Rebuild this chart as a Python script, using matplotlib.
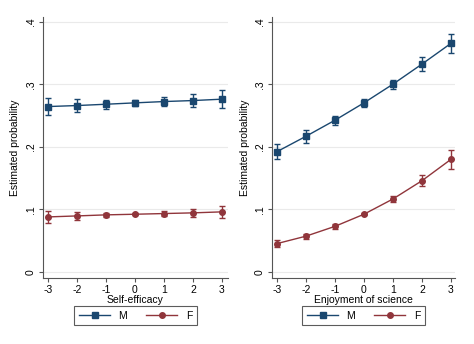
import matplotlib.pyplot as plt
from matplotlib.lines import Line2D

plt.rcParams['font.family'] = ['Liberation Sans', 'DejaVu Sans']

x = [-3, -2, -1, 0, 1, 2, 3]

# Self-efficacy panel
se_m = [0.2647, 0.2663, 0.2684, 0.2706, 0.2727, 0.2743, 0.2765]
se_m_err = [0.0136, 0.0104, 0.0075, 0.005, 0.0078, 0.0107, 0.014]
se_f = [0.0881, 0.0897, 0.0914, 0.0924, 0.0935, 0.0946, 0.0962]
se_f_err = [0.009, 0.0062, 0.0035, 0.002, 0.0035, 0.0065, 0.01]

# Enjoyment of science panel
en_m = [0.1925, 0.2171, 0.2428, 0.2706, 0.3005, 0.3326, 0.3658]
en_m_err = [0.012, 0.01, 0.0075, 0.0067, 0.0072, 0.011, 0.0155]
en_f = [0.0454, 0.0573, 0.073, 0.0924, 0.1168, 0.146, 0.1802]
en_f_err = [0.005, 0.004, 0.004, 0.002, 0.0043, 0.0086, 0.015]

yticks = [0, 0.1, 0.2, 0.3, 0.4]
ytick_labels = ['0', '.1', '.2', '.3', '.4']

navy = '#1a476f'
maroon = '#90353b'

fig = plt.figure(figsize=(4.74, 3.44), dpi=100)
fig.patch.set_facecolor('white')

panels = [
    (0.0907, 0.481 - 0.0907, 'Self-efficacy', se_m, se_m_err, se_f, se_f_err, 3.21),
    (272 / 474, (455 - 272) / 474, 'Enjoyment of science', en_m, en_m_err, en_f, en_f_err, 3.14),
]

for left, width, xlabel, m, me, f, fe, xmax in panels:
    ax = fig.add_axes([left, 0.1919, width, 0.9506 - 0.1919])
    ax.set_xlim(-3.17, xmax)
    ax.set_ylim(-0.0096, 0.408)
    for yv in yticks:
        ax.axhline(yv, color='#eaeaea', lw=0.8, zorder=0)
    ax.errorbar(x, m, yerr=me, color=navy, marker='s', ms=4, lw=1,
                elinewidth=1, capsize=2.5, capthick=1, zorder=3)
    ax.errorbar(x, f, yerr=fe, color=maroon, marker='o', ms=4, lw=1,
                elinewidth=1, capsize=2.5, capthick=1, zorder=3)
    ax.set_xticks(x)
    ax.set_xticklabels([str(v) for v in x])
    ax.set_yticks(yticks)
    ax.set_yticklabels(ytick_labels, rotation=90, va='center')
    ax.tick_params(labelsize=7.5, length=3, color='#555555', width=0.8, pad=2)
    ax.set_xlabel(xlabel, fontsize=7.5, labelpad=0)
    ax.set_ylabel('Estimated probability', fontsize=7.5, labelpad=4)
    for s in ['top', 'right']:
        ax.spines[s].set_visible(False)
    for s in ['left', 'bottom']:
        ax.spines[s].set_color('#555555')
        ax.spines[s].set_linewidth(0.8)
    ax.set_facecolor('white')
    hm = Line2D([], [], color=navy, marker='s', ms=4, lw=1)
    hf = Line2D([], [], color=maroon, marker='o', ms=4, lw=1)
    leg = ax.legend([hm, hf], ['M', 'F'], loc='center', ncol=2,
                    bbox_to_anchor=(0.5, -0.144), fontsize=7.5, frameon=True,
                    fancybox=False, edgecolor='#333333', handlelength=3,
                    columnspacing=1.8, borderpad=0.45, handletextpad=0.8)
    leg.get_frame().set_linewidth(0.8)

fig.savefig('out.png', dpi=100)
